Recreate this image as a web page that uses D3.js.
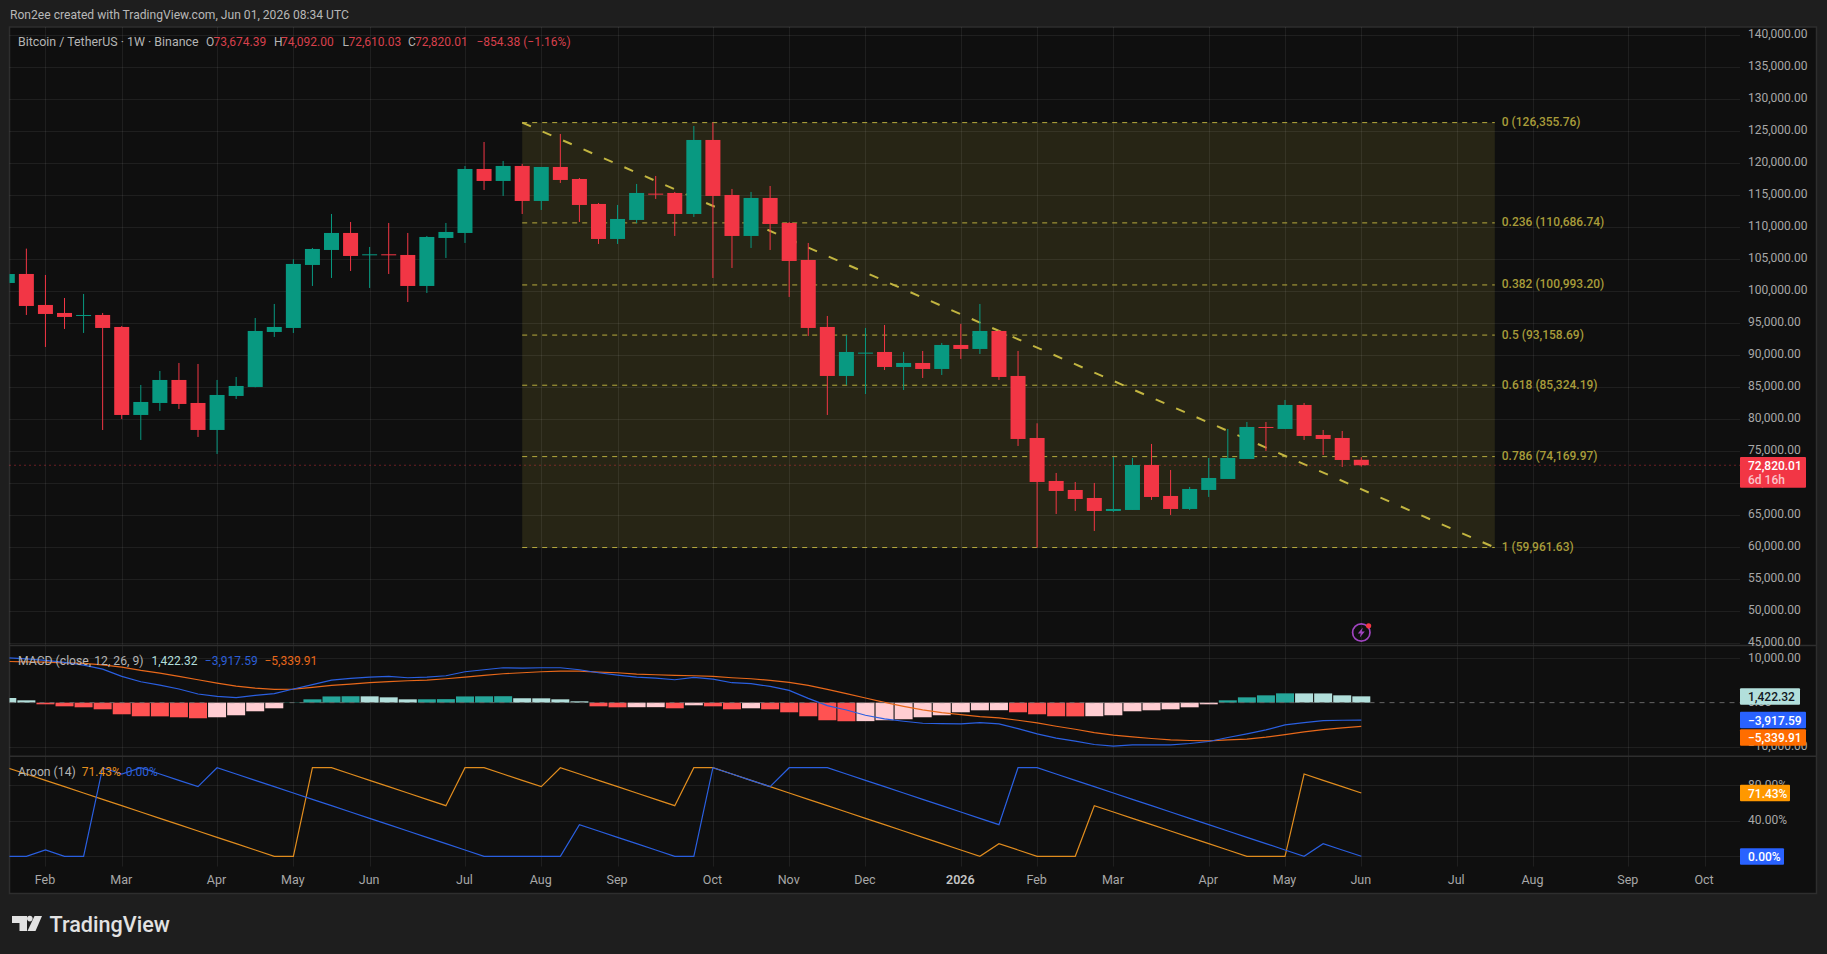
<!DOCTYPE html>
<html>
<head>
<meta charset="utf-8">
<script src="https://cdn.jsdelivr.net/npm/d3@7"></script>
<style>
  html, body { margin: 0; padding: 0; background: #1e1e1e; overflow: hidden; }
  text { font-family: Roboto, sans-serif; }
</style>
</head>
<body>
<div id="my_dataviz"></div>
<script>
// weekly candles, index 0 = first visible week, index 71 = week of Jun 01 2026
const opens = [101300,102708,97865,96615,96200,96302,94427,80677,82552,86146,82552,78333,83646,85052,93646,94271,104115,106458,109115,105700,105781,105677,100833,108333,109115,119115,117240,119583,114115,119427,117552,113646,108177,111146,115260,115365,112083,123646,115052,108646,114583,110677,104896,94427,86771,90400,90521,88177,88802,87865,91615,90990,93802,86771,77083,70365,68958,67708,65677,65833,72865,68021,65990,68958,70677,73802,78800,78490,82240,77552,77083,73674.39];
const highs = [102900,106667,102552,98958,99583,96615,94583,85365,87552,88802,88646,86146,86615,95833,98021,105000,106771,112083,110833,106927,110677,109115,108646,110677,119583,123333,120365,119896,119427,124583,117708,113802,113490,116771,118021,115521,125833,126355.76,115990,115521,116458,110833,107552,96146,93177,94271,94740,90521,90677,91927,94896,98021,93950,90677,79375,71615,70208,70052,74115,73958,76146,72083,69427,73958,78490,79583,79583,83021,82552,78333,78177,74092];
const lows = [100800,96302,91302,94115,93490,78333,80052,76771,81302,81615,77240,74583,83177,85000,92865,93490,100833,102083,103177,100521,102708,98333,99740,105208,107552,115833,114896,112083,112708,116927,110833,107396,107396,110677,114427,108646,111615,102083,103646,106771,106458,99115,93021,80677,85365,83958,87708,84583,86458,86927,89427,90208,86146,75833,59961.63,65208,65677,62552,65521,65833,67396,65052,65833,67865,70677,73802,75052,78490,76771,74427,72552,72610.03];
const closes = [102700,97708,96458,95990,96300,94271,80677,82708,86146,82396,78333,83802,85208,93802,94427,104271,106615,109115,105521,105781,105700,100833,108490,109271,119115,117240,119583,114115,119427,117396,113490,108177,111302,115365,115200,112083,123646,114896,108646,114583,110521,104740,94271,86771,90521,90417,88177,88802,87865,91615,90990,93802,86615,76927,70208,68802,67552,65677,65990,72865,67865,65990,69115,70833,73958,78802,78750,82240,77396,76927,73646,72820.01];

const macdHist = [1048,524,-375,-824,-1049,-1498,-2622,-3071,-3090,-3296,-3520,-3296,-2846,-1947,-1273,60,749,1400,1440,1423,1198,749,760,790,1400,1430,1450,990,974,749,300,-824,-1049,-1030,-1020,-1273,-599,-824,-1498,-1273,-1498,-2172,-3071,-3970,-4194,-4170,-3970,-3745,-3296,-2846,-2172,-1723,-1700,-2172,-2622,-3071,-3090,-3060,-2846,-1947,-1723,-1498,-1049,-375,524,1198,1648,2097,2090,2080,1648,1422.32];
const macdLine = [10112,9887,9512,9063,8464,7565,5917,4719,3970,3071,1947,1423,1124,1648,2022,3071,4045,5093,5468,5767,5917,5618,5767,6067,6966,7415,7865,7790,7865,7865,7415,6741,6217,5767,5543,5168,5692,5318,4494,4269,3670,2771,974,-674,-1648,-2846,-3670,-4194,-4644,-4719,-4794,-4494,-4794,-5842,-7041,-8014,-8688,-9437,-9812,-9512,-9512,-9512,-9213,-8763,-7865,-7041,-6142,-5018,-4494,-4045,-3970,-3917.59];
const macdSignal = [9288,9213,9138,8988,8838,8539,8014,7265,6666,5917,5168,4419,3745,3296,2996,3071,3445,3895,4194,4494,4719,4943,5093,5393,5767,6142,6516,6741,6966,7116,7116,6891,6741,6441,6292,6142,6067,5917,5618,5393,5018,4569,3895,2996,2022,1049,75,-824,-1648,-2247,-2696,-3146,-3445,-3970,-4569,-5318,-5992,-6741,-7340,-7715,-8089,-8389,-8539,-8614,-8389,-8239,-7790,-7190,-6591,-6067,-5692,-5339.91];

const aroonUp = [100,92.86,85.71,78.57,71.43,64.29,57.14,50,42.86,35.71,28.57,21.43,14.29,7.14,0,0,100,100,92.86,85.71,78.57,71.43,64.29,57.14,100,100,92.86,85.71,78.57,100,92.86,85.71,78.57,71.43,64.29,57.14,100,100,92.86,85.71,78.57,71.43,64.29,57.14,50,42.86,35.71,28.57,21.43,14.29,7.14,0,14.29,7.14,0,0,0,57.14,50,42.86,35.71,28.57,21.43,14.29,7.14,0,0,0,92.86,85.71,78.57,71.43];
const aroonDown = [0,0,7.14,0,0,100,92.86,100,92.86,85.71,78.57,100,92.86,85.71,78.57,71.43,64.29,57.14,50,42.86,35.71,28.57,21.43,14.29,7.14,0,0,0,0,0,35.71,28.57,21.43,14.29,7.14,0,0,100,92.86,85.71,78.57,100,100,100,92.86,85.71,78.57,71.43,64.29,57.14,50,42.86,35.71,100,100,92.86,85.71,78.57,71.43,64.29,57.14,50,42.86,35.71,28.57,21.43,14.29,7.14,0,14.29,7.14,0];

// fib retracement
const fibRatios = ["0","0.236","0.382","0.5","0.618","0.786","1"];
const fibPrices = [126355.76,110686.74,100993.20,93158.69,85324.19,74169.97,59961.63];
const fibStart = 27, fibEnd = 78;

const priceTicks = d3.range(45000, 140001, 5000);
const macdTicks = [10000, 0, -10000];
const aroonTicks = [80, 40, 0];
const timeIndex = [2,6,11,15,19,24,28,32,37,41,45,50,54,58,63,67,71,76,80,85,89];
const timeLabels = ["Feb","Mar","Apr","May","Jun","Jul","Aug","Sep","Oct","Nov","Dec","2026","Feb","Mar","Apr","May","Jun","Jul","Aug","Sep","Oct"];

// set the dimensions of the graph
const width = 1827, height = 954;
const frame = {left: 9.5, top: 27, right: 1816.5, bottom: 893.5};
const axisX = 1740, timeTop = 866.5;
const macdTop = 645.5, aroonTop = 756.2;

const x = d3.scaleLinear().domain([0, 71]).range([7.3, 1361.3]);
const yPrice = d3.scaleLinear().domain([45000, 140000]).range([643.3, 35.3]);
const yMacd = d3.scaleLinear().domain([-10000, 10000]).range([747, 658.3]);
const yAroon = d3.scaleLinear().domain([0, 100]).range([856.3, 767.7]);

const red = "#f23645", green = "#089981", grid = "rgba(255,255,255,0.07)";
const macdBlue = "#2a5fe0", macdOrange = "#e8681a", aroonOrange = "#e08c1e", aroonBlue = "#2a5fe0";

const svg = d3.select("#my_dataviz")
  .append("svg")
    .attr("width", width)
    .attr("height", height)
    .style("display", "block");

svg.append("rect").attr("width", width).attr("height", height).attr("fill", "#1e1e1e");
svg.append("rect")
  .attr("x", frame.left).attr("y", frame.top)
  .attr("width", frame.right - frame.left).attr("height", frame.bottom - frame.top)
  .attr("fill", "#0f0f0f").attr("stroke", "#2e2e2e").attr("stroke-width", 1.5);

const defs = svg.append("defs");
defs.append("clipPath").attr("id", "clip-price").append("rect")
  .attr("x", frame.left).attr("y", frame.top).attr("width", axisX - frame.left).attr("height", macdTop - frame.top);
defs.append("clipPath").attr("id", "clip-low").append("rect")
  .attr("x", frame.left).attr("y", macdTop).attr("width", axisX - frame.left).attr("height", timeTop - macdTop);

// fib background goes below the grid
const fibLeft = x(fibStart), fibRight = x(fibEnd);
svg.append("rect")
  .attr("x", fibLeft).attr("y", yPrice(fibPrices[0]))
  .attr("width", fibRight - fibLeft)
  .attr("height", yPrice(fibPrices[6]) - yPrice(fibPrices[0]))
  .attr("fill", "rgba(210,195,60,0.125)");

// grid lines
const gridG = svg.append("g").attr("stroke", grid).attr("stroke-width", 1);
gridG.selectAll(".v").data(timeIndex).join("line")
  .attr("x1", d => Math.round(x(d)) + 0.5).attr("x2", d => Math.round(x(d)) + 0.5)
  .attr("y1", frame.top).attr("y2", timeTop);
const hLine = (values, scale) => gridG.append("g").selectAll("line").data(values).join("line")
  .attr("x1", frame.left).attr("x2", axisX)
  .attr("y1", d => Math.round(scale(d)) + 0.5).attr("y2", d => Math.round(scale(d)) + 0.5);
hLine(priceTicks, yPrice);
hLine([10000, -10000], yMacd);
hLine(aroonTicks, yAroon);

// fib lines and the dashed trend line
svg.append("g").selectAll("line").data(fibPrices).join("line")
  .attr("x1", fibLeft).attr("x2", fibRight)
  .attr("y1", d => yPrice(d)).attr("y2", d => yPrice(d))
  .attr("stroke", "#b8ab3e").attr("stroke-width", 1).attr("stroke-dasharray", "5 5");
svg.append("line")
  .attr("x1", fibLeft).attr("y1", yPrice(fibPrices[0]))
  .attr("x2", fibRight).attr("y2", yPrice(fibPrices[6]))
  .attr("stroke", "#c2b540").attr("stroke-width", 2).attr("stroke-dasharray", "9.5 12.8");

// current price line
svg.append("line")
  .attr("x1", frame.left).attr("x2", axisX)
  .attr("y1", yPrice(closes[71])).attr("y2", yPrice(closes[71]))
  .attr("stroke", red).attr("stroke-opacity", 0.8).attr("stroke-dasharray", "1 4");

// candles
const candle = svg.append("g").attr("clip-path", "url(#clip-price)")
  .selectAll("g").data(d3.range(opens.length)).join("g")
  .attr("fill", i => closes[i] >= opens[i] ? green : red)
  .attr("stroke", i => closes[i] >= opens[i] ? green : red);
candle.append("line")
  .attr("x1", i => x(i)).attr("x2", i => x(i))
  .attr("y1", i => yPrice(highs[i])).attr("y2", i => yPrice(lows[i]))
  .attr("stroke-width", 1);
candle.append("rect")
  .attr("x", i => x(i) - 7.5).attr("width", 15)
  .attr("y", i => yPrice(Math.max(opens[i], closes[i])))
  .attr("height", i => Math.max(1, Math.abs(yPrice(opens[i]) - yPrice(closes[i]))))
  .attr("stroke", "none");

// MACD histogram: strong colour when moving away from zero, pale when coming back
const histColor = (d, i) => {
  const rising = i > 0 && d > macdHist[i - 1];
  if (d >= 0) return rising ? "#26a69a" : "#b2dfdb";
  return i > 0 && !rising ? "#ff5252" : "#ffcdd2";
};
const low = svg.append("g").attr("clip-path", "url(#clip-low)");
low.append("g").selectAll("rect").data(macdHist).join("rect")
  .attr("x", (d, i) => x(i) - 9).attr("width", 18)
  .attr("y", d => d >= 0 ? yMacd(d) : yMacd(0))
  .attr("height", d => Math.abs(yMacd(d) - yMacd(0)))
  .attr("fill", histColor);
svg.append("line")
  .attr("x1", frame.left).attr("x2", axisX)
  .attr("y1", yMacd(0)).attr("y2", yMacd(0))
  .attr("stroke", "#666").attr("stroke-dasharray", "5 5");

const lineOf = (scale) => d3.line().x((d, i) => x(i)).y(d => scale(d));
const addLine = (values, scale, color) => low.append("path")
  .attr("d", lineOf(scale)(values))
  .attr("fill", "none").attr("stroke", color).attr("stroke-width", 1.2);
addLine(macdSignal, yMacd, macdOrange);
addLine(macdLine, yMacd, macdBlue);
addLine(aroonUp, yAroon, aroonOrange);
addLine(aroonDown, yAroon, aroonBlue);

// pane separators
svg.append("g").selectAll("line").data([macdTop, aroonTop]).join("line")
  .attr("x1", frame.left).attr("x2", frame.right)
  .attr("y1", d => d).attr("y2", d => d)
  .attr("stroke", "#2e2e2e").attr("stroke-width", 1.5);

// axes
const axisStyle = (size) => g => {
  g.select(".domain").remove();
  g.selectAll("line").remove();
  g.selectAll("text").attr("fill", "#a8a8a8").attr("font-size", size).attr("font-family", "Roboto, sans-serif");
};
const priceAxis = d3.axisRight(yPrice).tickValues(priceTicks).tickFormat(d3.format(",.2f")).tickSize(0).tickPadding(0);
const macdAxis = d3.axisRight(yMacd).tickValues(macdTicks).tickFormat(d3.format(",.2f")).tickSize(0).tickPadding(0);
const aroonAxis = d3.axisRight(yAroon).tickValues(aroonTicks).tickFormat(d => d3.format(".2f")(d) + "%").tickSize(0).tickPadding(0);
const timeAxis = d3.axisBottom(x).tickValues(timeIndex).tickFormat((d, i) => timeLabels[i]).tickSize(0).tickPadding(0);

svg.append("g").attr("transform", `translate(1748,-1.5)`).call(priceAxis).call(axisStyle(12));
svg.append("g").attr("transform", `translate(1748,-1)`).call(macdAxis).call(axisStyle(12));
svg.append("g").attr("transform", `translate(1748,-1)`).call(aroonAxis).call(axisStyle(12));
svg.append("g").attr("transform", `translate(-1,875.5)`).call(timeAxis).call(axisStyle(12.5))
  .selectAll("text").filter(d => timeLabels[timeIndex.indexOf(d)] === "2026")
  .attr("font-weight", 600).attr("fill", "#c4c4c4");

// text helper
const label = (px, py, str, color, size = 12, weight = 400) => svg.append("text")
  .attr("x", px).attr("y", py)
  .attr("dominant-baseline", "central")
  .attr("fill", color).attr("font-size", size).attr("font-weight", weight)
  .text(str);

// fib labels
fibRatios.forEach((r, i) => {
  label(fibRight + 7, yPrice(fibPrices[i]) - 0.5, `${r} (${d3.format(",.2f")(fibPrices[i])})`, "#a89c3a", 12, 500);
});

// value tags on the axis
const tag = (cy, w, color, str, textColor) => {
  svg.append("rect").attr("x", axisX).attr("y", cy - 8.2).attr("width", w).attr("height", 16.5).attr("fill", color).attr("rx", 1);
  label(axisX + 8, cy + 0.7, str, textColor, 12, 500);
};
const fmt = d3.format(",.2f");
tag(yMacd(macdHist[71]), 60, "#b2dfdb", fmt(macdHist[71]), "#131722");
tag(yMacd(macdLine[71]), 66, "#2962ff", fmt(macdLine[71]), "#fff");
tag(yMacd(macdSignal[71]) + 11, 66, "#ff6d00", fmt(macdSignal[71]), "#fff");
tag(yAroon(aroonUp[71]), 50, "#ff9800", "71.43%", "#fff");
tag(yAroon(aroonDown[71]) + 0.2, 44, "#2962ff", "0.00%", "#fff");

svg.append("rect").attr("x", axisX).attr("y", yPrice(closes[71]) - 8.3).attr("width", 66).attr("height", 30.7).attr("fill", red).attr("rx", 1);
label(1748, yPrice(closes[71]) + 0.3, fmt(closes[71]), "#fff", 12, 500);
label(1748, yPrice(closes[71]) + 14.3, "6d 16h", "#fbc4ca", 12, 500);

// header and legends
label(10, 14.7, "Ron2ee created with TradingView.com, Jun 01, 2026 08:34 UTC", "#b8b8b8", 12.1);

const legendGray = "#b4b4b4", legendRed = "#d8404c";
const legendY = 41.7;
label(18, legendY, "Bitcoin / TetherUS · 1W · Binance", legendGray, 12.4);
label(206, legendY, "O", legendGray); label(213.5, legendY, "73,674.39", legendRed);
label(274, legendY, "H", legendGray); label(281, legendY, "74,092.00", legendRed);
label(342.4, legendY, "L", legendGray); label(348.5, legendY, "72,610.03", legendRed);
label(408, legendY, "C", legendGray); label(415, legendY, "72,820.01", legendRed);
label(476.5, legendY, "−854.38 (−1.16%)", legendRed);

const macdY = 660.7;
label(18, macdY, "MACD (close, 12, 26, 9)", legendGray, 12.2);
label(151.4, macdY, "1,422.32", "#b2dfdb");
label(204.8, macdY, "−3,917.59", "#2d5fd8");
label(264.5, macdY, "−5,339.91", "#e8681a");

const aroonY = 772;
label(18, aroonY, "Aroon (14)", legendGray, 12.2);
label(81.8, aroonY, "71.43%", "#e8911e");
label(125.7, aroonY, "0.00%", "#2d5fd8");

// lightning badge under the last candle
const badge = svg.append("g").attr("transform", `translate(${x(71)},632.5)`);
badge.append("circle").attr("r", 8.7).attr("fill", "none").attr("stroke", "#a044c0").attr("stroke-width", 1.7);
badge.append("path").attr("d", "M1.5,-5 L-3.5,1 L-0.5,1 L-1.5,5 L3.5,-1 L0.5,-1 Z").attr("fill", "#a044c0");
badge.append("circle").attr("cx", 7.3).attr("cy", -6.7).attr("r", 2.6).attr("fill", red);

// TradingView logo
const logo = svg.append("g").attr("fill", "#e2e2e2");
logo.append("path").attr("d", "M12,916 H27 V931 H19.5 V923 H12 Z");
logo.append("circle").attr("cx", 29.8).attr("cy", 918.6).attr("r", 2.8);
logo.append("path").attr("d", "M34.5,916 H42 L35.5,931 H27.5 Z");
label(49.5, 924, "TradingView", "#e2e2e2", 21.6, 500).attr("font-family", "Inter, sans-serif");
</script>
</body>
</html>
